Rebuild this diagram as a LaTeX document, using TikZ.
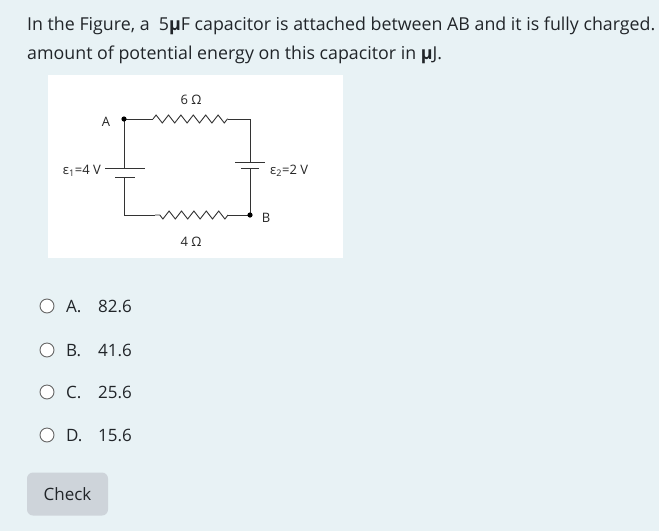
\documentclass[tikz,border=0pt]{standalone}
\usepackage{fontspec}
\setmainfont{Open Sans}
\usetikzlibrary{decorations.pathmorphing}
\definecolor{bgc}{RGB}{232,242,245}
\definecolor{txt}{RGB}{33,37,41}
\definecolor{btn}{RGB}{206,212,218}
\tikzset{
 wire/.style={line width=0.9pt,draw=black!80},
 res/.style={wire,decorate,decoration={zigzag,segment length=12.4,amplitude=4}},
 lbl/.style={font=\fontsize{13}{15}\selectfont,text=black!85,inner sep=0},
 qtext/.style={font=\fontsize{17.8}{21}\selectfont,text=txt,anchor=base west,inner sep=0},
 opt/.style={font=\fontsize{17}{21}\selectfont,text=txt,anchor=base west,inner sep=0},
 radio/.style={circle,draw=black!60,line width=0.9pt,minimum size=14,inner sep=0}
}
\begin{document}
\begin{tikzpicture}[x=1pt,y=-1pt]
\path[fill=bgc] (0,0) rectangle (659,531);
\useasboundingbox (0,0) rectangle (659,531);
\node[qtext] (q1) at (27,30) {In the Figure, a \ 5\textbf{μ}F capacitor is attached between AB and it is fully charged.};
\node[qtext] (q2) at (27,59) {amount of potential energy on this capacitor in \textbf{μ}J.};
\fill[white] (48,75) rectangle (343,258);
% circuit
\coordinate (A) at (124,119);
\coordinate (TR) at (250,119);
\coordinate (B) at (250,215);
\coordinate (BL) at (124,215);
\coordinate (r1a) at (153,119); \coordinate (r1b) at (228,119);
\coordinate (r2a) at (155,215); \coordinate (r2b) at (228,215);
\draw[wire] (A) -- (r1a); \draw[res] (r1a) -- (r1b); \draw[wire] (r1b) -- (TR) -- (250,162);
\draw[wire] (250,168) -- (B) -- (r2b); \draw[res] (r2b) -- (r2a); \draw[wire] (r2a) -- (BL) -- (124,177);
\draw[wire] (124,168) -- (A);
\draw[wire] (105,168) -- (145,168);
\draw[wire] (115,177) -- (135,177);
\draw[wire] (235,162) -- (265,162);
\draw[wire] (241,168) -- (259,168);
\fill (A) circle (2.6); \fill (B) circle (2.6);
\node[lbl] (la) at (106,122) {A};
\node[lbl] (lb) at (266,218) {B};
\node[lbl] (l6) at (191,100) {6 Ω};
\node[lbl] (l4) at (191,242) {4 Ω};
\node[lbl,anchor=east] (e1) at (101,171) {ε\textsubscript{1}=4 V};
\node[lbl,anchor=west] (e2) at (270,171) {ε\textsubscript{2}=2 V};
% options
\foreach \y/\l/\v in {306/A./82.6,350/B./41.6,392/C./25.6,435/D./15.6}{
 \node[radio,fill=white] at (47,\y) {};
 \node[opt] at (66,\y+6) {\l};
 \node[opt] at (98,\y+6) {\v};
}
\node[fill=btn,rounded corners=6,minimum width=81,minimum height=43,font=\fontsize{17}{21}\selectfont,text=txt] (chk) at (67.5,494) {Check};
\end{tikzpicture}
\end{document}
